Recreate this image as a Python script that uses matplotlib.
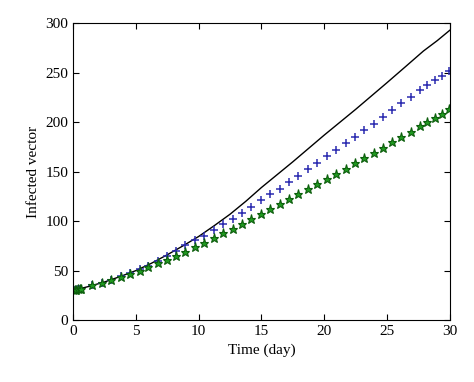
import numpy as np
import matplotlib.pyplot as plt

plt.rcParams['font.family'] = ['Liberation Serif', 'DejaVu Serif']

# solver time points (days)
t_pts = [0, 0.13, 0.27, 0.4, 0.53, 0.66, 1.5, 2.3, 3.05, 3.8, 4.55, 5.3, 6.0, 6.75,
         7.5, 8.2, 8.95, 9.7, 10.45, 11.2, 11.95, 12.7, 13.45, 14.2, 14.95, 15.7,
         16.45, 17.2, 17.95, 18.7, 19.45, 20.2, 20.95, 21.7, 22.45, 23.2, 23.95,
         24.65, 25.4, 26.15, 26.9, 27.65, 28.2, 28.8, 29.4, 29.9]
green = [30.3, 30.6, 30.9, 31.2, 31.5, 31.8, 35, 37.7, 40.4, 43.5, 46.5, 49.9, 53.3,
         57.3, 61, 64.7, 69, 73.5, 78.2, 82.6, 87.6, 92.4, 97.4, 102.1, 107.2, 112.2,
         117.3, 122.4, 127, 132.1, 137.5, 142.6, 147.6, 153, 158.4, 163.5, 168.9,
         174.3, 179.6, 184.7, 190.1, 195.8, 199.9, 203.9, 208.3, 213]
blue = [30.3, 30.6, 30.9, 31.2, 31.5, 31.8, 35, 38, 41, 44.2, 47.5, 51.3, 55,
        59.5, 65, 70, 75.5, 80.5, 85.3, 91, 96.7, 102, 108.5, 114.6, 121, 127,
        133, 139.5, 146, 152.3, 159, 165.8, 172.2, 179, 185.4, 191.8, 198.5,
        205.6, 212.3, 219, 226, 233, 237.6, 242.7, 247, 251.8]

# solid curve
t_line = [0, 1.25, 2.5, 3.75, 5, 6.25, 7.5, 8.75, 10, 11.25, 12.5, 13.75, 15,
          16.25, 17.5, 18.75, 20, 21.25, 22.5, 23.75, 25, 26.5, 27.9, 29, 30]
black = [30, 34, 38.5, 44, 50, 57.5, 66, 75, 84.5, 95.5, 107, 120, 134,
         147, 160, 173.5, 187, 200, 213, 226.5, 240, 256.5, 272, 282.5, 293]

fig = plt.figure(figsize=(4.74, 3.82), dpi=100)
ax = fig.add_axes([0.154, 0.162, 0.795, 0.777])

ax.plot(t_line, black, color='black', lw=1.0)
ax.plot(t_pts, blue, linestyle='none', marker='+', ms=6, mew=1.1, color='#2b2bb0')
ax.plot(t_pts, green, linestyle='none', marker='*', ms=6.5, mew=0.8,
        color='#1f9a1f', mec='#0d5e0d')

ax.set_xlim(0, 30)
ax.set_ylim(0, 300)
ax.set_xticks([0, 5, 10, 15, 20, 25, 30])
ax.set_yticks([0, 50, 100, 150, 200, 250, 300])
ax.tick_params(direction='in', top=True, right=True, labelsize=11, length=4)
ax.set_xlabel('Time (day)', fontsize=11)
ax.set_ylabel('Infected vector', fontsize=11)

fig.savefig('out.png', dpi=100)
